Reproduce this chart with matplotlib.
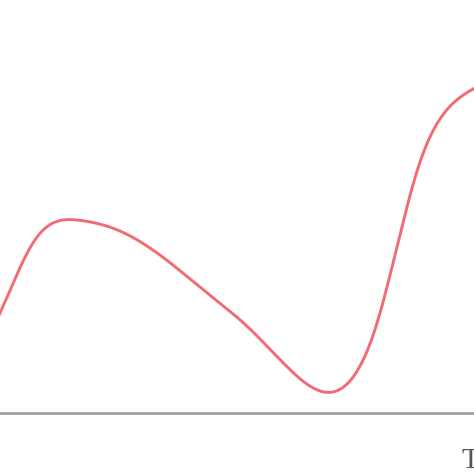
import numpy as np
import matplotlib
matplotlib.use("Agg")
import matplotlib.pyplot as plt

# category positions (index) and series values
positions = list(range(15))
values = [5.6, 20.6, 42.1, 46.7, 44.0, 37.7, 29.4, 20.8, 10.4, 5.1, 20.6, 59.3, 76.5, 80.6, 80.0]
tick_label = "T"


def natural_spline(x, y, n=60):
    x = np.asarray(x, float)
    y = np.asarray(y, float)
    k = len(x)
    h = np.diff(x)
    A = np.zeros((k, k))
    b = np.zeros(k)
    A[0, 0] = 1
    A[-1, -1] = 1
    for i in range(1, k - 1):
        A[i, i - 1] = h[i - 1]
        A[i, i] = 2 * (h[i - 1] + h[i])
        A[i, i + 1] = h[i]
        b[i] = 6 * ((y[i + 1] - y[i]) / h[i] - (y[i] - y[i - 1]) / h[i - 1])
    M = np.linalg.solve(A, b)
    xs, ys = [], []
    for i in range(k - 1):
        t = np.linspace(x[i], x[i + 1], n, endpoint=False)
        a = x[i + 1] - t
        c = t - x[i]
        yy = (M[i] * a**3 + M[i + 1] * c**3) / (6 * h[i]) \
            + (y[i] / h[i] - M[i] * h[i] / 6) * a \
            + (y[i + 1] / h[i] - M[i + 1] * h[i] / 6) * c
        xs.append(t)
        ys.append(yy)
    xs.append([x[-1]])
    ys.append([y[-1]])
    return np.concatenate(xs), np.concatenate(ys)


fig = plt.figure(figsize=(4.74, 4.74), dpi=100)
ax = fig.add_axes([0, 0, 1, 1])
ax.set_axis_off()

sx, sy = natural_spline(positions, values)
ax.plot(sx, sy, color="#f26b73", lw=2.1, solid_capstyle="round")
ax.axhline(0, color="#9a9a9a", lw=1.8)

ax.set_xlim(49.5 / 42.5, 523.5 / 42.5)
ax.set_ylim((413 - 474) / 4.13, 100)

fig.text(462 / 474, 1 - 468 / 474, tick_label, ha="left", va="baseline",
         fontsize=21, family="Liberation Serif", color="#555555")

fig.savefig("out.png", dpi=100)
